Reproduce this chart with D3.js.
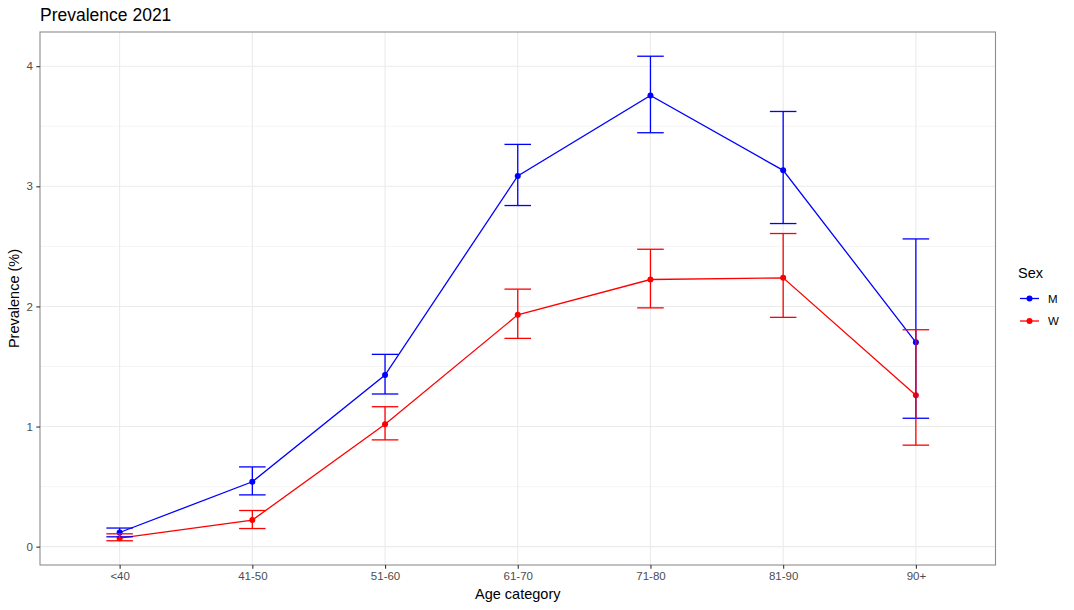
<!DOCTYPE html>
<html>
<head>
<meta charset="utf-8">
<script src="https://cdn.jsdelivr.net/npm/d3@7"></script>
<style>
  body { margin: 0; background: #fff; }
  text { font-family: "Liberation Sans", Arial, sans-serif; }
</style>
</head>
<body>
<div id="chart"></div>
<script>
const categories = ["<40", "41-50", "51-60", "61-70", "71-80", "81-90", "90+"];

// men
const mValues = [0.118, 0.540, 1.429, 3.086, 3.757, 3.133, 1.701];
const mLower  = [0.082, 0.431, 1.271, 2.840, 3.446, 2.690, 1.069];
const mUpper  = [0.155, 0.664, 1.601, 3.349, 4.083, 3.623, 2.562];

// women
const wValues = [0.071, 0.221, 1.019, 1.930, 2.224, 2.238, 1.260];
const wLower  = [0.049, 0.151, 0.889, 1.734, 1.988, 1.909, 0.845];
const wUpper  = [0.107, 0.301, 1.165, 2.144, 2.476, 2.607, 1.806];

const yTicks = [0, 1, 2, 3, 4];
const yMinorTicks = [0.5, 1.5, 2.5, 3.5];

const sexLabels = ["M", "W"];
const sexColors = ["#0000ff", "#ff0000"];

const width = 1074;
const height = 610;
const panel = { left: 40, right: 995.5, top: 32, bottom: 565 };

const series = [
	{ name: "M", color: sexColors[0], values: mValues, lower: mLower, upper: mUpper },
	{ name: "W", color: sexColors[1], values: wValues, lower: wLower, upper: wUpper },
];

const svg = d3.select("#chart")
	.append("svg")
	.attr("width", width)
	.attr("height", height);

// discrete x like ggplot: 0.6 unit expansion on both sides
const x = d3.scalePoint()
	.domain(categories)
	.range([panel.left, panel.right])
	.padding(0.6);

const allVals = [...mLower, ...mUpper, ...wLower, ...wUpper];
const yMin = d3.min(allVals), yMax = d3.max(allVals);
const pad = (yMax - yMin) * 0.05;
const y = d3.scaleLinear()
	.domain([yMin - pad, yMax + pad])
	.range([panel.bottom, panel.top]);

const grid = svg.append("g");

// minor grid
grid.selectAll(".minor").data(yMinorTicks).enter()
	.append("line")
	.attr("x1", panel.left).attr("x2", panel.right)
	.attr("y1", (d) => y(d)).attr("y2", (d) => y(d))
	.attr("stroke", "#ebebeb")
	.attr("stroke-width", 0.55);

// major grid
grid.selectAll(".major-y").data(yTicks).enter()
	.append("line")
	.attr("x1", panel.left).attr("x2", panel.right)
	.attr("y1", (d) => y(d)).attr("y2", (d) => y(d))
	.attr("stroke", "#ebebeb")
	.attr("stroke-width", 1.1);

grid.selectAll(".major-x").data(categories).enter()
	.append("line")
	.attr("y1", panel.top).attr("y2", panel.bottom)
	.attr("x1", (d) => x(d)).attr("x2", (d) => x(d))
	.attr("stroke", "#ebebeb")
	.attr("stroke-width", 1.1);

const line = d3.line()
	.x((d, i) => x(categories[i]))
	.y((d) => y(d));

// lines
svg.selectAll(".sex-line").data(series).enter()
	.append("path")
	.attr("fill", "none")
	.attr("stroke", (s) => s.color)
	.attr("stroke-width", 1.3)
	.attr("d", (s) => line(s.values));

// points
series.forEach((s) => {
	svg.append("g").selectAll("circle").data(s.values).enter()
		.append("circle")
		.attr("cx", (d, i) => x(categories[i]))
		.attr("cy", (d) => y(d))
		.attr("r", 3)
		.attr("fill", s.color);
});

// error bars
const capHalf = x.step() * 0.1;
series.forEach((s) => {
	const g = svg.append("g")
		.attr("stroke", s.color)
		.attr("stroke-width", 1.3)
		.attr("fill", "none");
	categories.forEach((c, i) => {
		const cx = x(c);
		g.append("line")
			.attr("x1", cx).attr("x2", cx)
			.attr("y1", y(s.lower[i])).attr("y2", y(s.upper[i]));
		g.append("line")
			.attr("x1", cx - capHalf).attr("x2", cx + capHalf)
			.attr("y1", y(s.upper[i])).attr("y2", y(s.upper[i]));
		g.append("line")
			.attr("x1", cx - capHalf).attr("x2", cx + capHalf)
			.attr("y1", y(s.lower[i])).attr("y2", y(s.lower[i]));
	});
});

// panel border
svg.append("rect")
	.attr("x", panel.left).attr("y", panel.top)
	.attr("width", panel.right - panel.left)
	.attr("height", panel.bottom - panel.top)
	.attr("fill", "none")
	.attr("stroke", "#8c8c8c")
	.attr("stroke-width", 1.1);

// axes
const yAxis = svg.append("g")
	.attr("transform", `translate(${panel.left},0)`)
	.call(d3.axisLeft(y).tickValues(yTicks).tickSize(3.7).tickPadding(3.5).tickFormat(d3.format("d")));

const xAxis = svg.append("g")
	.attr("transform", `translate(0,${panel.bottom})`)
	.call(d3.axisBottom(x).tickSize(3.7).tickPadding(3));

[yAxis, xAxis].forEach((a) => {
	a.select(".domain").remove();
	a.selectAll(".tick line").attr("stroke", "#333").attr("stroke-width", 1.1);
	a.selectAll(".tick text")
		.attr("fill", "#4d4d4d")
		.style("font-size", "11.5px")
		.style("font-family", "'Liberation Sans', Arial, sans-serif");
});

// titles
svg.append("text")
	.attr("x", panel.left)
	.attr("y", 21)
	.style("font-size", "17.5px")
	.attr("fill", "#000")
	.text("Prevalence 2021");

svg.append("text")
	.attr("x", (panel.left + panel.right) / 2)
	.attr("y", 599)
	.attr("text-anchor", "middle")
	.style("font-size", "14.5px")
	.text("Age category");

svg.append("text")
	.attr("transform", `translate(19,${(panel.top + panel.bottom) / 2}) rotate(-90)`)
	.attr("text-anchor", "middle")
	.style("font-size", "14.5px")
	.text("Prevalence (%)");

// legend
const legend = svg.append("g");
legend.append("text")
	.attr("x", 1018)
	.attr("y", 278)
	.style("font-size", "14.5px")
	.text("Sex");

const keys = legend.selectAll(".key").data(sexLabels).enter()
	.append("g")
	.attr("transform", (d, i) => `translate(0,${298.5 + i * 22.5})`);

keys.append("line")
	.attr("x1", 1020).attr("x2", 1039)
	.attr("stroke", (d, i) => sexColors[i])
	.attr("stroke-width", 1.3);

keys.append("circle")
	.attr("cx", 1029.5)
	.attr("r", 3)
	.attr("fill", (d, i) => sexColors[i]);

keys.append("text")
	.attr("x", 1048)
	.attr("y", 4)
	.style("font-size", "11.5px")
	.attr("fill", "#000")
	.text((d) => d);
</script>
</body>
</html>
